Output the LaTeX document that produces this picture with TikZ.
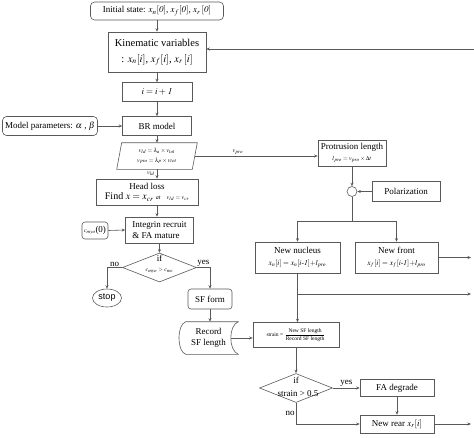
\documentclass[tikz,border=0pt]{standalone}
\usepackage{mathptmx}
\usepackage[no-math]{fontspec}
\setmainfont{Liberation Serif}
\newfontfamily\sansf{Liberation Sans}
\usetikzlibrary{shapes.geometric,arrows.meta,calc}
\newcommand{\fs}{\fontsize{9}{10.5}\selectfont}
\newcommand{\fsl}{\fontsize{10.5}{12}\selectfont}
\newcommand{\fsm}{\fontsize{7.5}{9}\selectfont}
\newcommand{\fss}{\fontsize{6}{7.5}\selectfont}
\newcommand{\fsss}{\fontsize{5.5}{6.5}\selectfont}
\colorlet{lc}{black!65}
\tikzset{
  box/.style={draw=lc, rectangle, inner sep=1pt, font=\fs, align=center},
  rbox/.style={box, rounded corners=4pt},
  arr/.style={draw=lc, -{Stealth[length=3.5pt,width=3pt]}},
  ln/.style={draw=lc},
  dia/.style={draw=lc, diamond, inner sep=0pt},
  lab/.style={font=\fs, inner sep=1pt},
}
\begin{document}
\begin{tikzpicture}[x=1pt,y=-1pt,line width=0.6pt]
\useasboundingbox (0,0) rectangle (474,437);
% nodes
\node[rbox, minimum width=133pt, minimum height=18pt] (init) at (157,11) {Initial state: $x_n[\mathit{0}]$, $x_f[\mathit{0}]$, $x_r\,[\mathit{0}]$};
\node[box, font=\fsl, minimum width=98pt, minimum height=40pt] (kin) at (157,52) {Kinematic variables\\[4pt] : $x_n[i]$, $x_f[i]$, $x_r\,[i]$};
\node[box, minimum width=70pt, minimum height=19pt] (inc) at (157,92) {$i = i+\,\mathit{1}$};
\node[box, minimum width=69pt, minimum height=19pt] (br) at (157,126) {BR model};
\node[rbox, minimum width=95pt, minimum height=19pt] (mp) at (50,126) {Model parameters: $\alpha$ , $\beta$};
\node[minimum width=80pt, minimum height=26pt, inner sep=0pt, font=\fss, align=center] (par) at (157,156) {$v_{ld} = \lambda_a \times v_{tot}$\\[2pt] $v_{pro} = \lambda_p \times v_{tot}$};
\draw[ln] ([xshift=5pt]par.north west) -- (par.north east) -- ([xshift=-5pt]par.south east) -- (par.south west) -- cycle;
\node[box, minimum width=102pt, minimum height=26pt] (hl) at (147,192) {Head loss\\ {\fontsize{10}{11}\selectfont Find $x = x_{cr}$}\ {\fss\textit{at}\quad $v_{ld} = v_{cr}$}};
\node[box, align=left, minimum width=68pt, minimum height=26pt] (ig) at (159.5,230) {Integrin recruit\\\& FA mature};
\node[box, rounded corners=3pt, minimum width=26pt, minimum height=17pt] (cm) at (95,230.5) {{\fss$c_{myo}$}(0)};
\node[dia, minimum width=74pt, minimum height=29pt] (d1) at (159.5,267.5) {};
\node[lab] (d1a) at (159.5,258) {if};
\node[lab, font=\fss] (d1b) at (159.5,271) {$c_{myo} > c_{mc}$};
\node[draw=lc, ellipse, minimum width=29pt, minimum height=18pt, inner sep=0pt, font=\sansf\fs] (stop) at (107,298) {stop};
\node[box, rounded corners=3pt, minimum width=44pt, minimum height=20pt] (sf) at (210,299) {SF form};
\node[minimum width=59pt, minimum height=32pt, inner sep=0pt, font=\fs, align=center] (rec) at (208.5,338) {Record\\SF length};
\draw[ln] ([xshift=7pt]rec.north west) -- (rec.north east)
  .. controls ([xshift=-10pt,yshift=-4pt]rec.north east) and ([xshift=-10pt,yshift=4pt]rec.south east) .. (rec.south east)
  -- ([xshift=7pt]rec.south west)
  .. controls ([xshift=-2pt,yshift=3pt]rec.south west) and ([xshift=-2pt,yshift=-3pt]rec.north west) .. ([xshift=7pt]rec.north west);
\node[box, minimum width=86pt, minimum height=25pt, font=\fsss] (st) at (296,335) {strain = $\displaystyle\frac{\mbox{New SF length}}{\mbox{Record SF length}}$};
\node[box, minimum width=68pt, minimum height=26pt] (pr) at (352,153) {Protrusion length\\ {\fss $l_{pro} = v_{pro} \times \Delta t$}};
\node[draw=lc, circle, minimum size=10pt, inner sep=0pt] (j) at (352,191.5) {};
\node[box, minimum width=68pt, minimum height=20pt] (pol) at (406,191.5) {Polarization};
\node[box, minimum width=85pt, minimum height=31pt] (nn) at (297.5,257.5) {New nucleus\\[2pt] {\fsm $x_n[i] = x_n[i\mbox{-}\mathit{1}]{+}l_{pro}$}};
\node[box, minimum width=83pt, minimum height=31pt] (nf) at (396.5,257.5) {New front\\[2pt] {\fsm $x_f[i] = x_f[i\mbox{-}\mathit{1}]{+}l_{pro}$}};
\node[dia, minimum width=73pt, minimum height=29pt] (d2) at (296,388) {};
\node[lab] (d2a) at (296,380) {if};
\node[lab] (d2b) at (298,394) {strain \textgreater{} 0.5};
\node[box, minimum width=74pt, minimum height=17pt] (fa) at (397,388) {FA degrade};
\node[box, minimum width=74pt, minimum height=18pt] (nr) at (397,424) {New rear $x_r[i]$};
% free ends
\coordinate (fb) at (474,49);
\coordinate (o1) at (471,257.5);
\coordinate (o2) at (471,294);
\coordinate (o3) at (471,424);
\coordinate (spl) at (352,221);
\coordinate (br2) at (297.5,294);
% connectors
\draw[arr] (init.south) -- (kin.north);
\draw[arr] (fb) -- (fb -| kin.east);
\draw[arr] (kin.south) -- (inc.north);
\draw[arr] (inc.south) -- (br.north);
\draw[arr] (mp.east) -- (br.west);
\draw[arr] (br.south) -- (par.north);
\draw[arr] ([xshift=-2.5pt]par.east) -- (par.east -| pr.west) node[pos=0.35, above, font=\fss, inner sep=1pt] {$v_{pro}$};
\draw[arr] (par.south) -- (par.south |- hl.north) node[midway, left, font=\fss, inner sep=2pt] {$v_{ld}$};
\draw[arr] (par.south |- hl.south) -- (par.south |- ig.north);
\draw[arr] (cm.east) -- (ig.west);
\draw[arr] (ig.south) -- (d1.north);
\draw[arr] (d1.west) -| (stop.north) node[pos=0.25, above, lab] {no};
\draw[arr] (d1.east) -| (sf.north) node[pos=0.25, above, lab] {yes};
\draw[arr] (sf.south) -- (sf.south |- rec.north);
\draw[arr] ([xshift=-7.5pt]rec.east) -- (rec.east -| st.west);
\draw[arr] (pr.south) -- (j.north);
\draw[arr] (pol.west) -- (j.east);
\draw[ln] (j.south) -- (spl);
\draw[ln] (nn.north |- spl) -- (nf.north |- spl);
\draw[arr] (nn.north |- spl) -- (nn.north);
\draw[arr] (nf.north |- spl) -- (nf.north);
\draw[arr] (nf.east) -- (o1);
\draw[arr] (nn.south) -- (nn.south |- st.north);
\draw[arr] (br2) -- (o2);
\draw[arr] (st.south) -- (d2.north);
\draw[arr] (d2.east) -- (fa.west) node[midway, above, lab] {yes};
\draw[arr] (fa.south) -- (nr.north);
\draw[arr] (d2.south) |- (nr.west) node[pos=0.25, left, lab] {no};
\draw[arr] (nr.east) -- (o3);
\end{tikzpicture}
\end{document}
